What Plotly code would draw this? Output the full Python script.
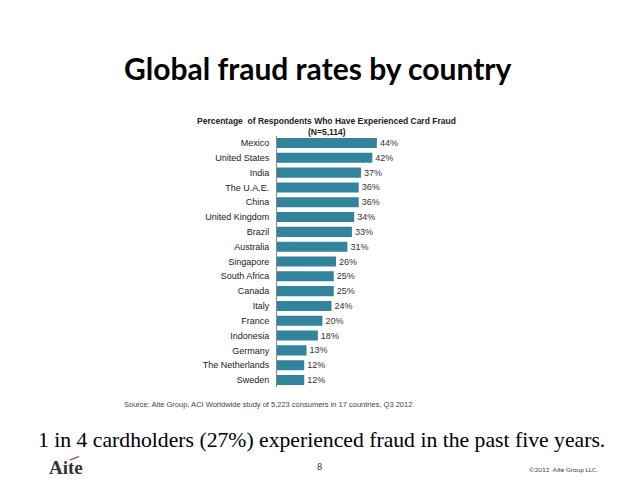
import plotly.graph_objects as go

countries = ["Mexico", "United States", "India", "The U.A.E.", "China", "United Kingdom",
             "Brazil", "Australia", "Singapore", "South Africa", "Canada", "Italy",
             "France", "Indonesia", "Germany", "The Netherlands", "Sweden"]
values = [44, 42, 37, 36, 36, 34, 33, 31, 26, 25, 25, 24, 20, 18, 13, 12, 12]
labels = [f"{v}%" for v in values]

W, H = 638, 479
BAR = "#31849B"

fig = go.Figure(go.Bar(
    x=values, y=countries, orientation="h",
    marker=dict(color=BAR, line=dict(width=0)),
    width=0.68,
    text=labels, textposition="outside", cliponaxis=False,
    textfont=dict(family="Liberation Sans, Arial", size=9, color="#333333"),
    hoverinfo="skip",
))

ax0 = 277
pxper = 2.27
xend = 577
ytop = 135.6
ybot = 387.4

fig.update_layout(
    width=W, height=H,
    margin=dict(l=0, r=0, t=0, b=0),
    paper_bgcolor="white", plot_bgcolor="white",
    showlegend=False,
    xaxis=dict(domain=[ax0 / W, xend / W], range=[0, (xend - ax0) / pxper],
               visible=False, fixedrange=True),
    yaxis=dict(domain=[1 - ybot / H, 1 - ytop / H],
               autorange="reversed", showgrid=False, zeroline=False,
               showline=True, linecolor="#888888", linewidth=1,
               ticks="", ticklabelstandoff=5, fixedrange=True,
               tickfont=dict(family="Liberation Sans, Arial", size=9, color="#222222")),
    font=dict(family="Liberation Sans, Arial"),
)

def ann(text, x, y, size, family, color="#000000", xanchor="center", bold=False):
    fig.add_annotation(text=(f"<b>{text}</b>" if bold else text),
                       x=x / W, y=1 - y / H, xref="paper", yref="paper",
                       showarrow=False, xanchor=xanchor, yanchor="middle",
                       font=dict(size=size, family=family, color=color))

ann("Global fraud rates by country", 318, 68, 30, "Lato, Open Sans", bold=True)
ann("Percentage  of Respondents Who Have Experienced Card Fraud", 327, 121, 8.5,
    "Liberation Sans, Arial", color="#222222", bold=True)
ann("(N=5,114)", 327, 132, 8.5, "Liberation Sans, Arial", color="#222222", bold=True)
ann("Source: Aite Group, ACI Worldwide study of 5,223 consumers in 17 countries, Q3 2012",
    122, 404, 7.5, "Liberation Sans, Arial", color="#444444", xanchor="left")
ann("1 in 4 cardholders (27%) experienced fraud in the past five years.", 321, 440, 21.7,
    "Liberation Serif, Times New Roman")
ann("Aite", 47, 467, 19, "Liberation Serif, Times New Roman", color="#333333",
    xanchor="left", bold=True)
ann("8", 320, 466, 9, "Lato, Open Sans", color="#333333")
ann("©2012  Aite Group LLC.", 600, 469, 6.5, "Lato, Open Sans", color="#444444", xanchor="right")

fig.add_shape(type="line", xref="paper", yref="paper",
              x0=70 / W, y0=1 - 460 / H, x1=79 / W, y1=1 - 456.5 / H,
              line=dict(color="#CC2222", width=1.2))

fig.write_html("out.html", config={"displayModeBar": False, "staticPlot": True},
               post_script="document.body.style.margin='0';document.body.style.overflow='hidden';")
